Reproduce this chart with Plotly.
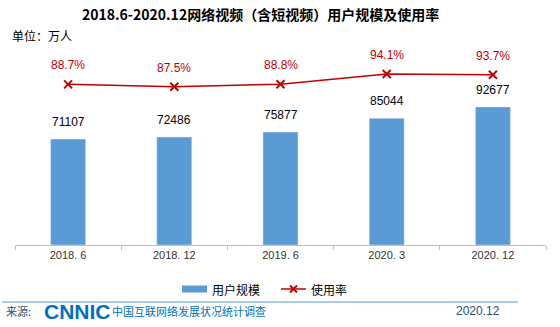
import plotly.graph_objects as go

categories = ["2018. 6", "2018. 12", "2019. 6", "2020. 3", "2020. 12"]
users = [71107, 72486, 75877, 85044, 92677]
rates = [88.7, 87.5, 88.8, 94.1, 93.7]
rate_labels = ["88.7%", "87.5%", "88.8%", "94.1%", "93.7%"]

W, H = 560, 327
L, R, T, B = 15, 14, 60, 82
PH = H - T - B
PW = W - L - R

def py(p):
    return (H - B - p) / PH

def px(p):
    return (p - L) / PW

CJK = "Noto Sans CJK SC, Microsoft YaHei, sans-serif"
BLUE = "#5B9BD5"
RED = "#C00000"

fig = go.Figure()
fig.add_trace(go.Bar(x=categories, y=users, name="用户规模", marker_color=BLUE,
                     width=0.33, yaxis="y", showlegend=False))
fig.add_trace(go.Scatter(x=categories, y=rates, name="使用率", mode="lines+markers",
                         line=dict(color=RED, width=1.5),
                         marker=dict(symbol="x-thin", size=8, line=dict(color=RED, width=2)),
                         yaxis="y2", showlegend=False))

ann = []
for c, v in zip(categories, users):
    ann.append(dict(x=c, y=v, xref="x", yref="y", text=str(v), showarrow=False,
                    yshift=17, font=dict(size=12, color="#000000", family="Arial, Liberation Sans")))
for c, v, t in zip(categories, rates, rate_labels):
    ann.append(dict(x=c, y=v, xref="x", yref="y2", text=t, showarrow=False,
                    yshift=19, font=dict(size=12, color=RED, family="Arial, Liberation Sans")))

def txt(x, y, text, size, color, family=CJK, xanchor="left"):
    ann.append(dict(x=px(x), y=py(y), xref="paper", yref="paper", xanchor=xanchor, yanchor="middle",
                    text=text, showarrow=False, font=dict(size=size, color=color, family=family)))

txt(260, 14, "<b>2018.6-2020.12网络视频（含短视频）用户规模及使用率</b>", 14, "#000000", xanchor="center")
txt(10, 35, "单位：万人", 12, "#000000")
txt(4, 311, "来源:", 11, "#1F4E79")
txt(42, 311, "<b>CNNIC</b>", 21, "#0070C0", family="Arial Black, Liberation Sans, sans-serif")
txt(110, 311, "中国互联网络发展状况统计调查", 11, "#0070C0")
txt(502, 311, "2020.12", 12, "#1F4E79", family="Arial, Liberation Sans", xanchor="right")
# legend texts
txt(210, 289, "用户规模", 12, "#000000")
txt(309, 289, "使用率", 12, "#000000")

def line(x0, y0, x1, y1, color, width):
    return dict(type="line", xref="paper", yref="paper", x0=px(x0), x1=px(x1), y0=py(y0), y1=py(y1),
                line=dict(color=color, width=width))

shapes = [
    line(2, 302, 518, 302, BLUE, 1.2),
    dict(type="rect", xref="paper", yref="paper", x0=px(182), x1=px(207), y0=py(285.5), y1=py(292.5),
         fillcolor=BLUE, line=dict(width=0)),
    line(281, 289, 306, 289, RED, 1.5),
    line(290, 285.5, 297, 292.5, RED, 2),
    line(290, 292.5, 297, 285.5, RED, 2),
]

fig.update_layout(
    width=W, height=H, margin=dict(l=L, r=R, t=T, b=B),
    paper_bgcolor="white", plot_bgcolor="white",
    showlegend=False,
    xaxis=dict(type="category", showline=True, linecolor="#BFBFBF", linewidth=1,
               ticks="outside", tickson="boundaries", ticklen=4, tickcolor="#BFBFBF",
               tickfont=dict(size=11, color="#333333", family="Liberation Sans, Arial"),
               showgrid=False, range=[-0.5, 4.5]),
    yaxis=dict(range=[0, 124160], visible=False, showgrid=False),
    yaxis2=dict(range=[5, 101.4], overlaying="y", visible=False, showgrid=False),
    annotations=ann, shapes=shapes, bargap=0.67,
)

fig.write_html("out.html")
